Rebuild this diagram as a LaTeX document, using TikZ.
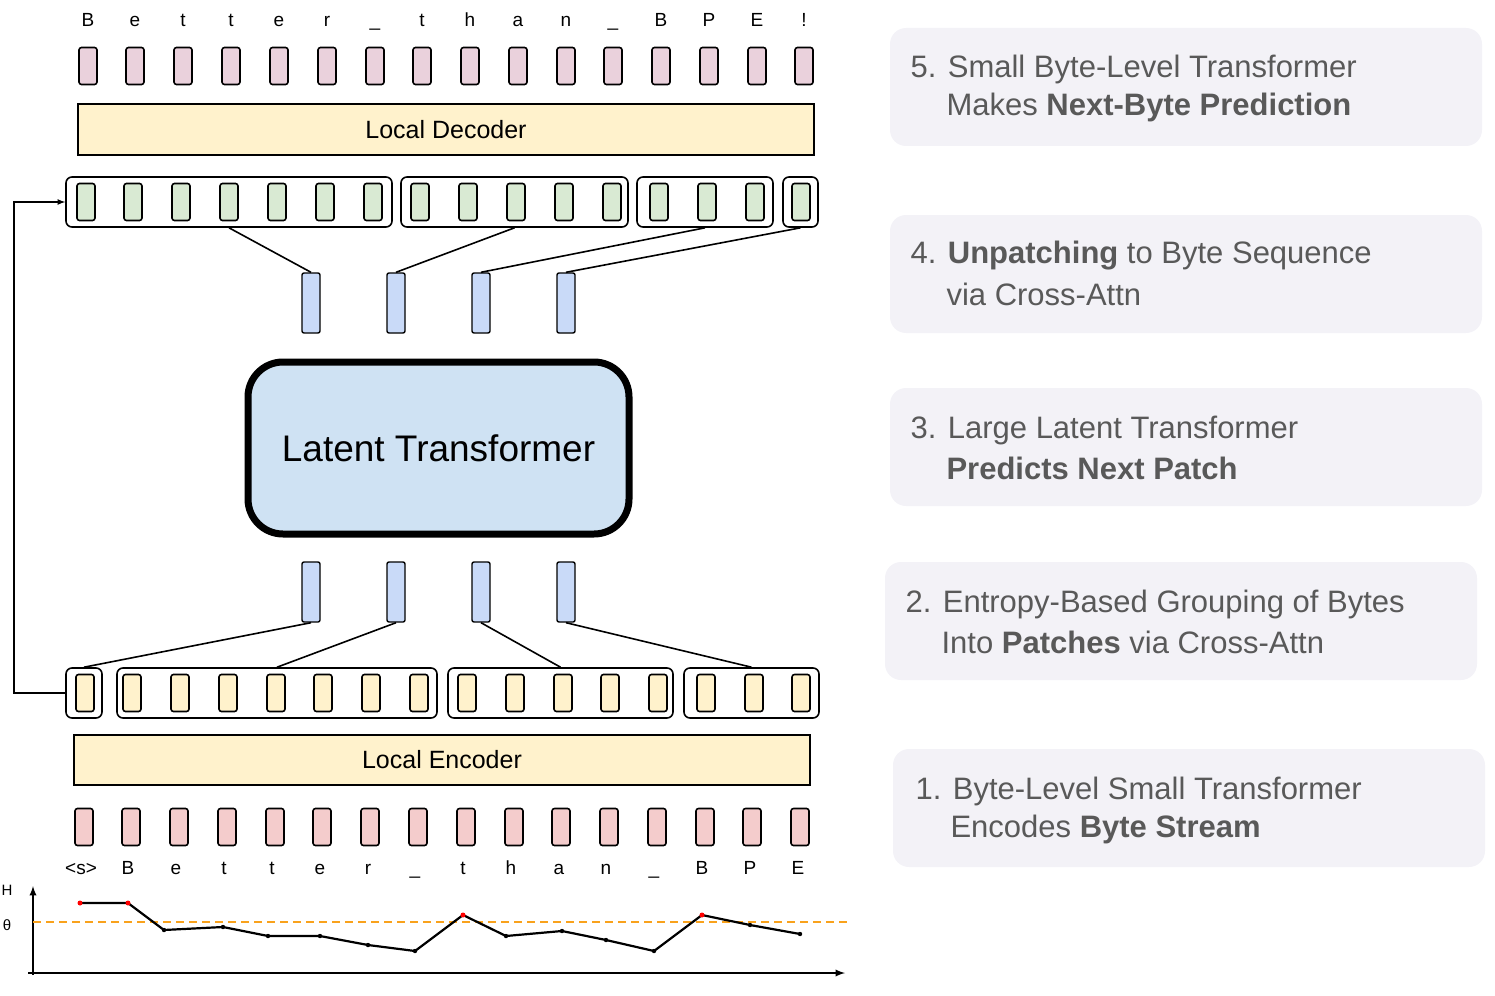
\documentclass[tikz,border=0pt]{standalone}
\usepackage{fontspec}
\setmainfont{Liberation Sans}
\definecolor{pinkA}{HTML}{EAD1DC}
\definecolor{pinkB}{HTML}{F4CCCC}
\definecolor{yel}{HTML}{FFF2CC}
\definecolor{grn}{HTML}{D9EAD3}
\definecolor{blu}{HTML}{C9DAF8}
\definecolor{ltb}{HTML}{CFE2F3}
\definecolor{pan}{HTML}{F3F2F7}
\definecolor{ptx}{HTML}{595959}
\definecolor{org}{HTML}{F9A21C}
\begin{document}
\begin{tikzpicture}[x=1pt,y=-1pt,
  tok/.style={draw,line width=1.6pt,rounded corners=2.5pt,minimum width=18pt,minimum height=37pt,inner sep=0pt},
  grp/.style={draw,line width=1.6pt,rounded corners=6pt},
  blue/.style={draw,line width=1.4pt,rounded corners=2pt,fill=blu,minimum width=18pt,minimum height=60pt,inner sep=0pt},
  panel/.style={fill=pan,rounded corners=16pt},
  ptxt/.style={text=ptx,font=\fontsize{31}{34}\selectfont,anchor=west},
  lab/.style={font=\fontsize{19}{22}\selectfont,text height=14pt,text depth=4pt,inner sep=0pt}]
\useasboundingbox (0,0) rectangle (1495,995);
\def\us{\char`\_}
% top letters + pink
\foreach \c/\x [count=\i] in {B/88,e/135,t/183,t/231,e/279,r/327,\us/375,t/422,h/470,a/518,n/566,\us/613,B/661,P/709,E/757,!/804}{
  \node[lab] (tl\i) at (\x,22) {\c};
  \node[tok,fill=pinkA] (tp\i) at (\x,66) {};
}
\node[draw,line width=1.6pt,fill=yel,minimum width=736pt,minimum height=51pt,font=\fontsize{25}{28}\selectfont] (dec) at (446,129.5) {Local Decoder};
% green groups
\node[grp,minimum width=326pt,minimum height=50pt] (g1) at (229,202) {};
\node[grp,minimum width=227pt,minimum height=50pt] (g2) at (514.5,202) {};
\node[grp,minimum width=136pt,minimum height=50pt] (g3) at (705,202) {};
\node[grp,minimum width=35pt,minimum height=50pt] (g4) at (800.5,202) {};
\foreach \x [count=\i] in {86,133,181,229,277,325,373,420,468,516,564,612,659,707,755,801}
  \node[tok,fill=grn] (gr\i) at (\x,202) {};
% blue
\foreach \x [count=\i] in {311,396,481,566}{
  \node[blue] (bt\i) at (\x,303) {};
  \node[blue] (bb\i) at (\x,592) {};
}
\draw[line width=1.6pt] (g1.south) -- (bt1.north);
\draw[line width=1.6pt] (g2.south) -- (bt2.north);
\draw[line width=1.6pt] (g3.south) -- (bt3.north);
\draw[line width=1.6pt] (g4.south) -- (bt4.north);
\node[draw,line width=7pt,rounded corners=35pt,fill=ltb,minimum width=381pt,minimum height=172pt,font=\fontsize{37}{42}\selectfont] (lt) at (438.5,448) {Latent Transformer};
% yellow groups
\node[grp,minimum width=36pt,minimum height=50pt] (y1) at (84,693) {};
\node[grp,minimum width=320pt,minimum height=50pt] (y2) at (277,693) {};
\node[grp,minimum width=225pt,minimum height=50pt] (y3) at (560.5,693) {};
\node[grp,minimum width=135pt,minimum height=50pt] (y4) at (751.5,693) {};
\foreach \x [count=\i] in {85,132,180,228,276,323,371,419,467,515,563,610,658,706,754,801}
  \node[tok,fill=yel] (yr\i) at (\x,693) {};
\draw[line width=1.6pt] (bb1.south) -- (y1.north);
\draw[line width=1.6pt] (bb2.south) -- (y2.north);
\draw[line width=1.6pt] (bb3.south) -- (y3.north);
\draw[line width=1.6pt] (bb4.south) -- (y4.north);
\node[draw,line width=1.6pt,fill=yel,minimum width=736pt,minimum height=50pt,font=\fontsize{25}{28}\selectfont] (enc) at (442,760) {Local Encoder};
\foreach \c/\x [count=\i] in {{<s>}/81,B/128,e/176,t/224,t/272,e/320,r/368,\us/415,t/463,h/511,a/559,n/606,\us/654,B/702,P/750,E/798}
  \node[lab] (bl\i) at (\x,869) {\c};
\foreach \x [count=\i] in {84,131,179,227,275,322,370,418,466,514,561,609,657,705,752,800}
  \node[tok,fill=pinkB] (bp\i) at (\x,827) {};
% feedback
\draw[line width=1.6pt,-latex] (y1.west) -- ++(-51,0) |- (g1.west);
% chart
\node[font=\fontsize{15}{18}\selectfont] (H) at (7,890) {H};
\node[font=\fontsize{15}{18}\selectfont] (th) at (7,925) {θ};
\coordinate (ya) at (33,975); \coordinate (yb) at (33,886);
\coordinate (xa) at (28,973); \coordinate (xb) at (845,973);
\draw[line width=2.2pt,-latex] (ya) -- (yb);
\draw[line width=2.2pt,-latex] (xa) -- (xb);
\coordinate (da) at (33,922); \coordinate (db) at (850,922);
\draw[org,line width=2.2pt,dash pattern=on 8pt off 5pt] (da) -- (db);
\draw[line width=2.2pt,line join=round] (80,903) -- (128,903) -- (164,930) -- (223,927) -- (268,936) -- (320,936) -- (368,945) -- (415,951) -- (463,915) -- (506,936) -- (562,931) -- (606,940) -- (654,951) -- (702,915) -- (750,925) -- (800,934);
\foreach \p in {(164,930),(223,927),(268,936),(320,936),(368,945),(415,951),(506,936),(562,931),(606,940),(654,951),(750,925),(800,934)}
  \fill \p circle (2.2pt);
\foreach \p in {(80,903),(128,903),(463,915),(702,915)}
  \fill[red] \p circle (2.5pt);
% panels
\fill[panel] (890,28) rectangle (1482,146);
\fill[panel] (890,215) rectangle (1482,333);
\fill[panel] (890,388) rectangle (1482,506);
\fill[panel] (885,562) rectangle (1477,680);
\fill[panel] (893,749) rectangle (1485,867);
\node[ptxt] (p5a) at (907,69) {5. Small Byte-Level Transformer};
\node[ptxt] (p5b) at (943,107) {Makes \textbf{Next-Byte Prediction}};
\node[ptxt] (p4a) at (907,256) {4. \textbf{Unpatching} to Byte Sequence};
\node[ptxt] (p4b) at (943,294) {via Cross-Attn};
\node[ptxt] (p3a) at (907,430) {3. Large Latent Transformer};
\node[ptxt] (p3b) at (943,468) {\textbf{Predicts Next Patch}};
\node[ptxt] (p2a) at (902,604) {2. Entropy-Based Grouping of Bytes};
\node[ptxt] (p2b) at (938,642) {Into \textbf{Patches} via Cross-Attn};
\node[ptxt] (p1a) at (912,791) {1. Byte-Level Small Transformer};
\node[ptxt] (p1b) at (947,829) {Encodes \textbf{Byte Stream}};
\end{tikzpicture}
\end{document}
